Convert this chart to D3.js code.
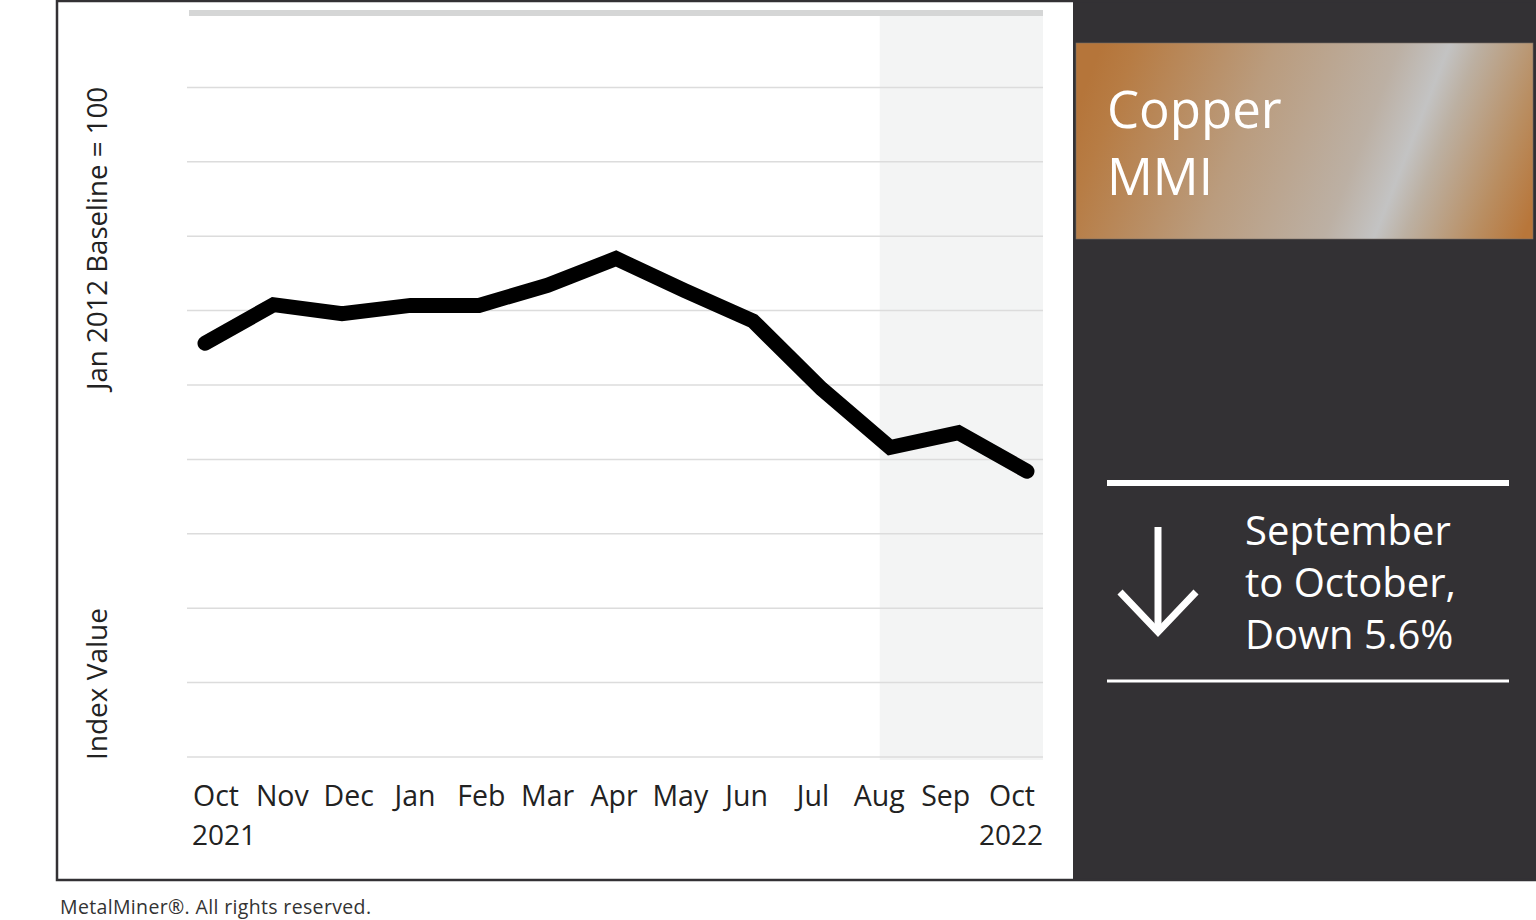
<!DOCTYPE html>
<html>
<head>
<meta charset="utf-8">
<script src="https://cdn.jsdelivr.net/npm/d3@7"></script>
<style>
  html, body { margin: 0; padding: 0; background: #ffffff; }
  svg { display: block; }
  text { font-family: "Open Sans", "Noto Sans", sans-serif; }
</style>
</head>
<body>
<svg id="chart" width="1536" height="920"></svg>
<script>
// ---- data ----
const months = ["Oct", "Nov", "Dec", "Jan", "Feb", "Mar", "Apr", "May", "Jun", "Jul", "Aug", "Sep", "Oct "];
const monthLabels = ["Oct", "Nov", "Dec", "Jan", "Feb", "Mar", "Apr", "May", "Jun", "Jul", "Aug", "Sep", "Oct"];
const indexValues = [105.6, 110.8, 109.6, 110.7, 110.7, 113.4, 117.0, 112.7, 108.6, 99.5, 91.6, 93.6, 88.4];
const gridValues = [60, 70, 80, 90, 100, 110, 120, 130, 140];
const yDomain = [50, 150];
const yearStart = "2021";
const yearEnd = "2022";
const highlightMonths = ["Aug", "Sep", "Oct "];
const yTitleTop = "Jan 2012 Baseline = 100";
const yTitleBottom = "Index Value";
const bannerLines = ["Copper", "MMI"];
const changeLines = ["September", "to October,", "Down 5.6%"];
const footer = "MetalMiner\u00AE. All rights reserved.";

// ---- layout ----
const svg = d3.select("#chart");
const W = 1536, H = 920;
const plotLeft = 189, plotRight = 1043;
const dark = "#333134";

const y = d3.scaleLinear().domain(yDomain).range([757, 13]);
const xLine = d3.scalePoint().domain(months).range([205, 1027]);
const xLab = d3.scalePoint().domain(months).range([216, 1012]);

// background
svg.append("rect").attr("x", 0).attr("y", 0).attr("width", W).attr("height", H).attr("fill", "#ffffff");

// right dark panel
svg.append("rect").attr("x", 1073).attr("y", 0).attr("width", W - 1073).attr("height", 881).attr("fill", dark);

// chart frame
svg.append("rect").attr("x", 57).attr("y", 1).attr("width", W - 57).attr("height", 879)
  .attr("fill", "none").attr("stroke", dark).attr("stroke-width", 2.5);

// highlight shading
const shadeX0 = xLine(highlightMonths[0]) - xLine.step() * 0.15;
svg.append("rect")
  .attr("x", shadeX0).attr("y", y(yDomain[1]))
  .attr("width", plotRight - shadeX0).attr("height", y(yDomain[0]) - y(yDomain[1]) + 3)
  .attr("fill", "#f3f4f4");

// gridlines
svg.append("g").selectAll("line").data(gridValues.concat([yDomain[0]])).join("line")
  .attr("x1", plotLeft - 2).attr("x2", plotRight)
  .attr("y1", d => y(d)).attr("y2", d => y(d))
  .attr("stroke", "#dcdcdc").attr("stroke-width", 1.5);

// top thick bar
svg.append("line")
  .attr("x1", plotLeft).attr("x2", plotRight)
  .attr("y1", y(yDomain[1])).attr("y2", y(yDomain[1]))
  .attr("stroke", "#d5d6d6").attr("stroke-width", 6);

// data line
const line = d3.line().x((d, i) => xLine(months[i])).y(d => y(d));
svg.append("path").datum(indexValues)
  .attr("d", line)
  .attr("fill", "none").attr("stroke", "#000000").attr("stroke-width", 15)
  .attr("stroke-linejoin", "miter").attr("stroke-linecap", "round");

// x axis labels
svg.append("g").selectAll("text").data(months).join("text")
  .attr("x", d => xLab(d)).attr("y", 806)
  .attr("text-anchor", "middle")
  .attr("font-size", 28.5).attr("fill", "#222")
  .text((d, i) => monthLabels[i]);

svg.append("text").attr("x", 192).attr("y", 845).attr("font-size", 28).attr("fill", "#222").text(yearStart);
svg.append("text").attr("x", 1043).attr("y", 845).attr("text-anchor", "end").attr("font-size", 28).attr("fill", "#222").text(yearEnd);

// y titles
svg.append("text")
  .attr("transform", "translate(107,390) rotate(-90)")
  .attr("font-size", 28).attr("fill", "#222")
  .attr("textLength", 303).attr("lengthAdjust", "spacingAndGlyphs")
  .text(yTitleTop);
svg.append("text")
  .attr("transform", "translate(107,760) rotate(-90)")
  .attr("font-size", 28).attr("fill", "#222")
  .attr("textLength", 152).attr("lengthAdjust", "spacingAndGlyphs")
  .text(yTitleBottom);

// banner gradient
const defs = svg.append("defs");
const grad = defs.append("linearGradient").attr("id", "copperGrad")
  .attr("gradientUnits", "userSpaceOnUse")
  .attr("x1", 1080).attr("y1", 100).attr("x2", 1511).attr("y2", 269);
[[0, "#b5753a"], [0.07, "#b77c44"], [0.35, "#ba9c7e"], [0.6, "#bcb0a4"],
 [0.7, "#c3c3c3"], [0.76, "#bcb0a2"], [0.9, "#b98e62"], [1, "#b8763a"]]
  .forEach(s => grad.append("stop").attr("offset", s[0]).attr("stop-color", s[1]));

svg.append("rect").attr("x", 1076).attr("y", 43).attr("width", 457).attr("height", 196)
  .attr("fill", "url(#copperGrad)").attr("stroke", "#7a7068").attr("stroke-width", 0.6);

svg.append("g").selectAll("text").data(bannerLines).join("text")
  .attr("x", 1107).attr("y", (d, i) => 128 + i * 67)
  .attr("font-size", 51).attr("fill", "#ffffff")
  .text(d => d);

// separator lines
svg.append("line").attr("x1", 1107).attr("x2", 1509).attr("y1", 483).attr("y2", 483)
  .attr("stroke", "#ffffff").attr("stroke-width", 6);
svg.append("line").attr("x1", 1107).attr("x2", 1509).attr("y1", 681).attr("y2", 681)
  .attr("stroke", "#ffffff").attr("stroke-width", 3);

// arrow
svg.append("line").attr("x1", 1158).attr("x2", 1158).attr("y1", 527).attr("y2", 633)
  .attr("stroke", "#ffffff").attr("stroke-width", 7);
svg.append("path").attr("d", "M1120,592 L1158,632 L1196,592")
  .attr("fill", "none").attr("stroke", "#ffffff").attr("stroke-width", 7)
  .attr("stroke-linejoin", "miter");

// change text
svg.append("g").selectAll("text").data(changeLines).join("text")
  .attr("x", 1245).attr("y", (d, i) => 545 + i * 52)
  .attr("font-size", 40).attr("fill", "#ffffff")
  .text(d => d);

// footer
svg.append("text").attr("x", 60).attr("y", 914).attr("font-size", 19.5).attr("fill", "#333")
  .attr("textLength", 311).attr("lengthAdjust", "spacing")
  .text(footer);
</script>
</body>
</html>
